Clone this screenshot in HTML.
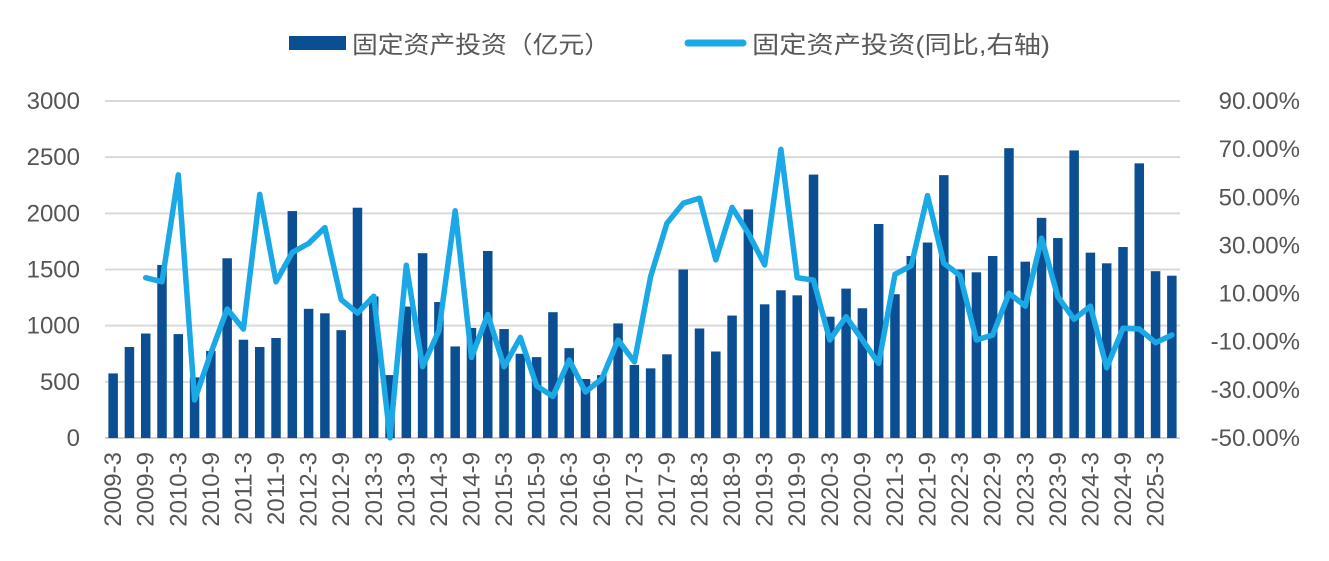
<!DOCTYPE html>
<html><head><meta charset="utf-8"><style>
html,body{margin:0;padding:0;background:#fff;}
svg{display:block;font-family:"Liberation Sans","Noto Sans CJK SC",sans-serif;}
</style></head><body>
<svg id="chart" width="1329" height="561" viewBox="0 0 1329 561">
<g id="legend">
 <rect x="289" y="36" width="57" height="14" fill="#0b4f92"/>
 <text x="352" y="53" font-size="24" fill="#595959" textLength="258" lengthAdjust="spacingAndGlyphs">固定资产投资（亿元）</text>
 <line x1="688" y1="43" x2="743" y2="43" stroke="#1aa9e6" stroke-width="7" stroke-linecap="round"/>
 <text x="752" y="53" font-size="24" fill="#595959" textLength="298" lengthAdjust="spacingAndGlyphs">固定资产投资(同比,右轴)</text>
</g>
<g id="grid"></g><g id="bars"></g><g id="line"></g><g id="axes"></g>
</svg>
<script>
const categories = [];
(function(){for(let y=2009;y<=2025;y++)for(const m of [3,6,9,12]){if(y===2025&&m>6)break;categories.push(y+'-'+m);}})();
const barValues = [575,810,930,1540,925,540,775,1600,875,810,890,2020,1150,1110,960,2050,1260,560,1170,1645,1210,815,980,1665,970,750,720,1120,800,525,560,1020,650,620,745,1500,975,770,1090,2035,1190,1315,1270,2345,1080,1330,1155,1905,1280,1620,1740,2340,1500,1475,1620,2580,1570,1960,1780,2560,1650,1555,1700,2445,1485,1445];
const yoyValues = [null,null,16.6,14.9,59.3,-34.2,-14.7,3.6,-4.7,51.2,14.9,27.1,30.8,37.4,7.5,1.9,8.9,-49.9,21.8,-20.4,-5.4,44.4,-16.5,1.3,-20.4,-8.2,-28.3,-32.7,-17.6,-30.9,-25.4,-9.3,-18.4,17,39.2,47.5,49.6,24,45.8,35,21.9,69.9,16.6,15.6,-9.3,0.4,-9.3,-19,18,21.6,50.7,22.6,17.5,-9.3,-7.2,10.1,4.8,33,8.7,-0.7,4.8,-20.8,-4.4,-4.7,-10.4,-7.2];
const leftTicks = [0,500,1000,1500,2000,2500,3000];
const rightTicks = [-50,-30,-10,10,30,50,70,90];

const NS='http://www.w3.org/2000/svg';
const X0=105,X1=1180,Y0=438,YT=101;
const n=categories.length, cw=(X1-X0)/n;
const xC=i=>X0+cw*(i+0.5);
const yL=v=>Y0-(v/3000)*(Y0-YT);
const yR=v=>Y0-((v+50)/140)*(Y0-YT);
function mk(tag,attrs,parent){const e=document.createElementNS(NS,tag);for(const k in attrs)e.setAttribute(k,attrs[k]);parent.appendChild(e);return e;}
const grid=document.getElementById('grid'),bars=document.getElementById('bars'),line=document.getElementById('line'),axes=document.getElementById('axes');
leftTicks.forEach(t=>{
 const g=mk('line',{x1:X0,x2:X1,y1:yL(t),y2:yL(t),stroke:t===0?'#d0d0d0':'#d9d9d9','stroke-width':2},grid);
 
 
 const tx=mk('text',{x:80,y:yL(t)+8,'text-anchor':'end','font-size':24,fill:'#555'},axes);
 tx.textContent=t;
 
 
});
rightTicks.forEach(t=>{
 const tx=mk('text',{x:1300,y:yR(t)+8,'text-anchor':'end','font-size':24,fill:'#555'},axes);
 tx.textContent=t.toFixed(2)+'%';
 
 
});
barValues.forEach((v,i)=>{
 const bw=9.5;
 const r=mk('rect',{x:xC(i)-bw/2,y:yL(v),width:bw,height:Y0-yL(v),fill:'#0b4f92'},bars);
 
 
});
let d='';yoyValues.forEach((v,i)=>{if(v===null)return;d+=(d?'L':'M')+xC(i).toFixed(1)+','+yR(v).toFixed(1);});
const p=mk('path',{d:d,fill:'none',stroke:'#1aa9e6','stroke-width':5.5,'stroke-linejoin':'round','stroke-linecap':'round'},line);


categories.forEach((c,i)=>{
 if(i%2!==0)return;
 const x=xC(i);
 const tx=mk('text',{x:0,y:0,'text-anchor':'end','font-size':24,fill:'#555',transform:'translate('+(x+8)+',452) rotate(-90)'},axes);
 tx.textContent=c;
 
 
});
</script>
</body></html>
